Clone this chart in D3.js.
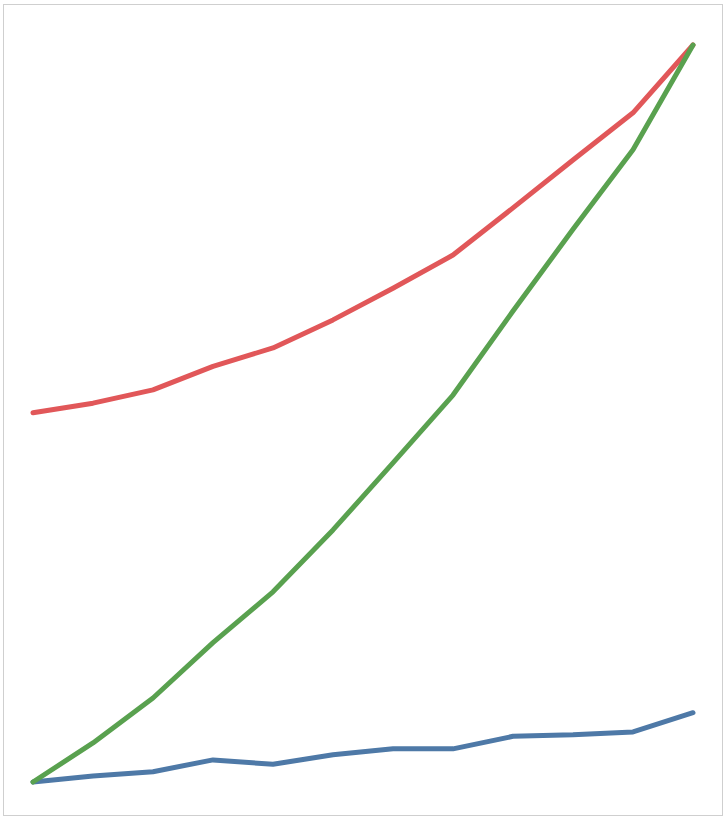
<!DOCTYPE html>
<html>
<head>
<meta charset="utf-8">
<script src="https://cdn.jsdelivr.net/npm/d3@7"></script>
<style>
    html, body { margin: 0; padding: 0; background: #fff; }
    .frame { fill: none; stroke: #cfcfcf; stroke-width: 1; }
    .series { fill: none; stroke-width: 5; stroke-linecap: round; stroke-linejoin: round; }
</style>
</head>
<body>
<div class="line-chart"></div>
<script>
// twelve periods, values (top point = 100)
const periods = [1, 2, 3, 4, 5, 6, 7, 8, 9, 10, 11, 12]
const blueValues = [0, 0.8, 1.4, 3.0, 2.4, 3.7, 4.5, 4.5, 6.2, 6.4, 6.8, 9.4]
const redValues = [50.1, 51.4, 53.2, 56.4, 58.9, 62.7, 67.0, 71.5, 77.9, 84.4, 90.8, 100]
const greenValues = [0, 5.3, 11.4, 18.9, 25.8, 34.2, 43.3, 52.5, 63.9, 75.0, 85.8, 100]
const seriesNames = ['blue', 'red', 'green']
const seriesColors = ['#4e79a7', '#e15759', '#59a14f']

;(function() {
    const width = 728
    const height = 821

    const svg = d3.select('.line-chart')
        .append('svg')
        .attr('width', width)
        .attr('height', height)
        .attr('viewBox', `0 0 ${width} ${height}`)
        .style('display', 'block')

    svg.append('rect')
        .attr('class', 'frame')
        .attr('x', 3.5)
        .attr('y', 4.5)
        .attr('width', 719)
        .attr('height', 811)

    const x = d3.scaleLinear()
        .domain(d3.extent(periods))
        .range([33, 693])

    const y = d3.scaleLinear()
        .domain([0, 100])
        .range([782, 45])

    const line = d3.line()
        .x((d, i) => x(periods[i]))
        .y(d => y(d))

    const series = [blueValues, redValues, greenValues]

    // blue drawn first, then red, green on top
    svg.selectAll('path.series')
        .data(series)
        .join('path')
        .attr('class', (d, i) => 'series ' + seriesNames[i])
        .attr('stroke', (d, i) => seriesColors[i])
        .attr('d', line)
}())
</script>
</body>
</html>
